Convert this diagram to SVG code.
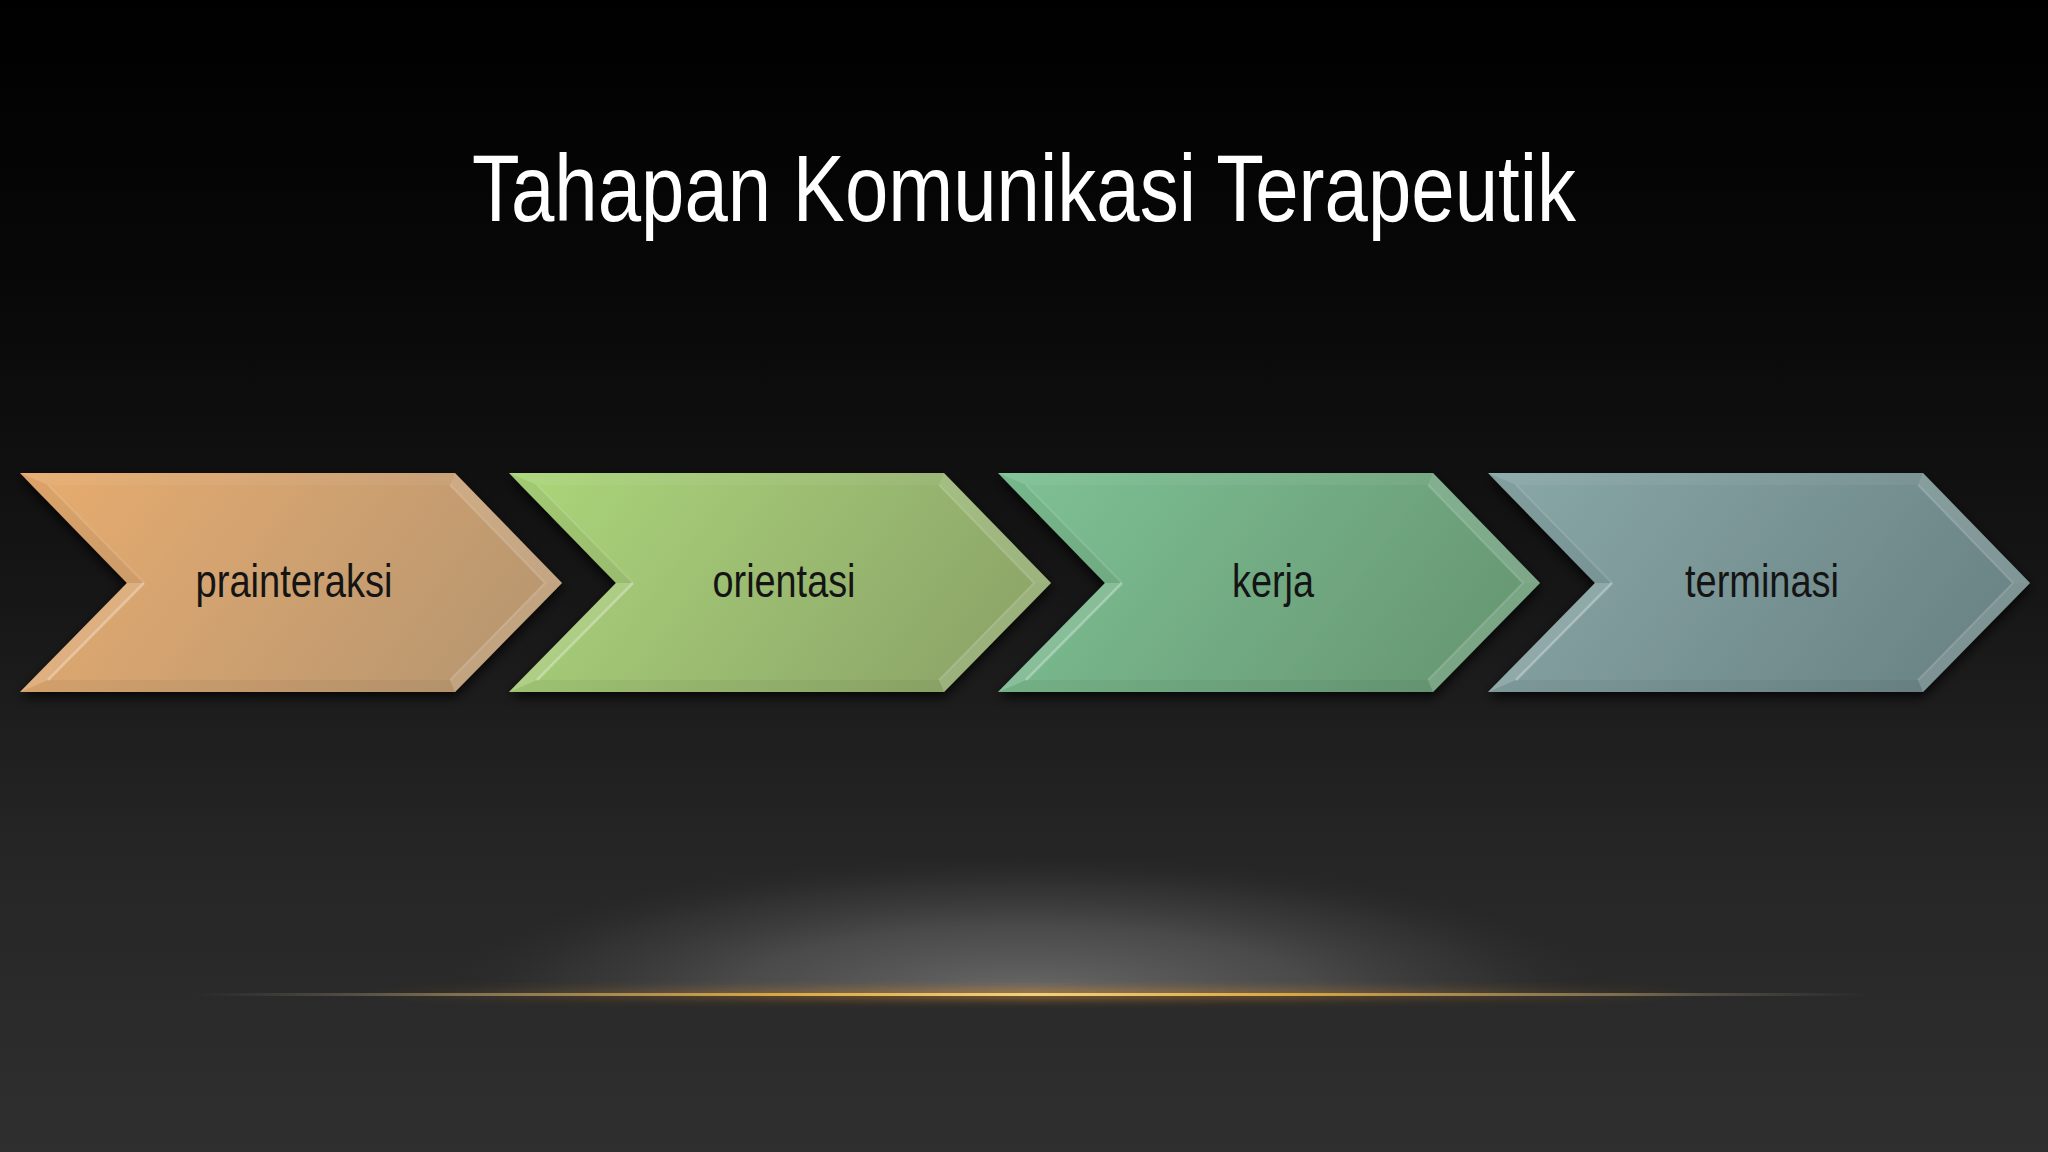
<svg xmlns="http://www.w3.org/2000/svg" width="2048" height="1152" viewBox="0 0 2048 1152">
  <defs>
    <style>
      .title { font-family: "Liberation Sans", Arial, sans-serif; font-size: 94px; fill: #ffffff; }
      .label { font-family: "Liberation Sans", Arial, sans-serif; font-size: 46px; fill: #141414; }
      .hl { fill: #ffffff; }
      .sh { fill: #000000; }
    </style>
    <linearGradient id="bg" x1="0" y1="0" x2="0" y2="1">
      <stop offset="0" stop-color="#000000"/>
      <stop offset="0.25" stop-color="#080808"/>
      <stop offset="0.5" stop-color="#151515"/>
      <stop offset="0.75" stop-color="#262626"/>
      <stop offset="1" stop-color="#2f2f2f"/>
    </linearGradient>
    <radialGradient id="glow" gradientUnits="userSpaceOnUse" cx="1024" cy="995" r="580" gradientTransform="translate(0,995) scale(1,0.24) translate(0,-995)">
      <stop offset="0" stop-color="#707070" stop-opacity="0.9"/>
      <stop offset="0.5" stop-color="#606060" stop-opacity="0.6"/>
      <stop offset="0.8" stop-color="#505050" stop-opacity="0.25"/>
      <stop offset="1" stop-color="#333333" stop-opacity="0"/>
    </radialGradient>
    <linearGradient id="line" x1="0" y1="0" x2="1" y2="0">
      <stop offset="0" stop-color="#6a6a6a" stop-opacity="0"/>
      <stop offset="0.15" stop-color="#9a8a60" stop-opacity="0.7"/>
      <stop offset="0.35" stop-color="#d9a845"/>
      <stop offset="0.5" stop-color="#f2d27e"/>
      <stop offset="0.65" stop-color="#d9a845"/>
      <stop offset="0.85" stop-color="#9a8a60" stop-opacity="0.7"/>
      <stop offset="1" stop-color="#6a6a6a" stop-opacity="0"/>
    </linearGradient>
    <linearGradient id="lineGlow" x1="0" y1="0" x2="1" y2="0">
      <stop offset="0.1" stop-color="#b0702a" stop-opacity="0"/>
      <stop offset="0.5" stop-color="#c08030" stop-opacity="0.6"/>
      <stop offset="0.9" stop-color="#b0702a" stop-opacity="0"/>
    </linearGradient>
    <filter id="blur" x="-10%" y="-200%" width="120%" height="500%">
      <feGaussianBlur stdDeviation="4"/>
    </filter>
    <filter id="shadow" x="-5%" y="-10%" width="110%" height="130%">
      <feDropShadow dx="0" dy="5" stdDeviation="6" flood-color="#000000" flood-opacity="0.8"/>
    </filter>
    <linearGradient id="g1" x1="0" y1="0" x2="1" y2="0.3">
      <stop offset="0" stop-color="#e8ac6e"/>
      <stop offset="1" stop-color="#bb9870"/>
    </linearGradient>
    <linearGradient id="g2" x1="0" y1="0" x2="1" y2="0.3">
      <stop offset="0" stop-color="#acd67a"/>
      <stop offset="1" stop-color="#8ea86a"/>
    </linearGradient>
    <linearGradient id="g3" x1="0" y1="0" x2="1" y2="0.3">
      <stop offset="0" stop-color="#7ec294"/>
      <stop offset="1" stop-color="#699a76"/>
    </linearGradient>
    <linearGradient id="g4" x1="0" y1="0" x2="1" y2="0.3">
      <stop offset="0" stop-color="#8aa8a8"/>
      <stop offset="1" stop-color="#6c8586"/>
    </linearGradient>
    <g id="bevel">
      <polygon class="hl" opacity="0.05" points="0,473 435,473 430,485 28,485"/>
      <polygon class="hl" opacity="0.14" points="435,473 542,583 525,583 430,485"/>
      <polygon class="hl" opacity="0.12" points="542,583 435,692 430,680 525,583"/>
      <polygon class="sh" opacity="0.04" points="435,692 0,692 28,680 430,680"/>
      <polygon class="hl" opacity="0.12" points="0,692 107,583 124,583 28,680"/>
      <polygon class="sh" opacity="0.05" points="107,583 0,473 28,485 124,583"/>
      <polyline points="28,680 124,583" fill="none" stroke="#ffffff" stroke-opacity="0.3" stroke-width="2.5"/>
      <polyline points="430,485 525,583 430,680" fill="none" stroke="#ffffff" stroke-opacity="0.15" stroke-width="2"/>
      <polyline points="28,485 124,583" fill="none" stroke="#ffffff" stroke-opacity="0.12" stroke-width="2"/>
    </g>
  </defs>

  <rect id="background" x="0" y="0" width="2048" height="1152" fill="url(#bg)"/>

  <g id="floor">
    <path d="M444,995 A580,140 0 0 1 1604,995 Z" fill="url(#glow)"/>
    <rect x="196" y="988" width="1672" height="12" fill="url(#lineGlow)" filter="url(#blur)"/>
    <rect x="196" y="993" width="1672" height="3" fill="url(#line)"/>
  </g>

  <g id="title">
    <text class="title" x="1024" y="221" text-anchor="middle" textLength="1104" lengthAdjust="spacingAndGlyphs">Tahapan Komunikasi Terapeutik</text>
  </g>

  <g id="connectors"></g>

  <g id="node-prainteraksi" transform="translate(20,0)">
    <polygon points="0,473 435,473 542,583 435,692 0,692 107,583" fill="url(#g1)" filter="url(#shadow)"/>
    <use href="#bevel"/>
    <text class="label" x="274" y="597" text-anchor="middle" textLength="197" lengthAdjust="spacingAndGlyphs">prainteraksi</text>
  </g>

  <g id="node-orientasi" transform="translate(509,0)">
    <polygon points="0,473 435,473 542,583 435,692 0,692 107,583" fill="url(#g2)" filter="url(#shadow)"/>
    <use href="#bevel"/>
    <text class="label" x="275" y="597" text-anchor="middle" textLength="143" lengthAdjust="spacingAndGlyphs">orientasi</text>
  </g>

  <g id="node-kerja" transform="translate(998,0)">
    <polygon points="0,473 435,473 542,583 435,692 0,692 107,583" fill="url(#g3)" filter="url(#shadow)"/>
    <use href="#bevel"/>
    <text class="label" x="275" y="597" text-anchor="middle" textLength="82" lengthAdjust="spacingAndGlyphs">kerja</text>
  </g>

  <g id="node-terminasi" transform="translate(1488,0)">
    <polygon points="0,473 435,473 542,583 435,692 0,692 107,583" fill="url(#g4)" filter="url(#shadow)"/>
    <use href="#bevel"/>
    <text class="label" x="274" y="597" text-anchor="middle" textLength="154" lengthAdjust="spacingAndGlyphs">terminasi</text>
  </g>
</svg>
